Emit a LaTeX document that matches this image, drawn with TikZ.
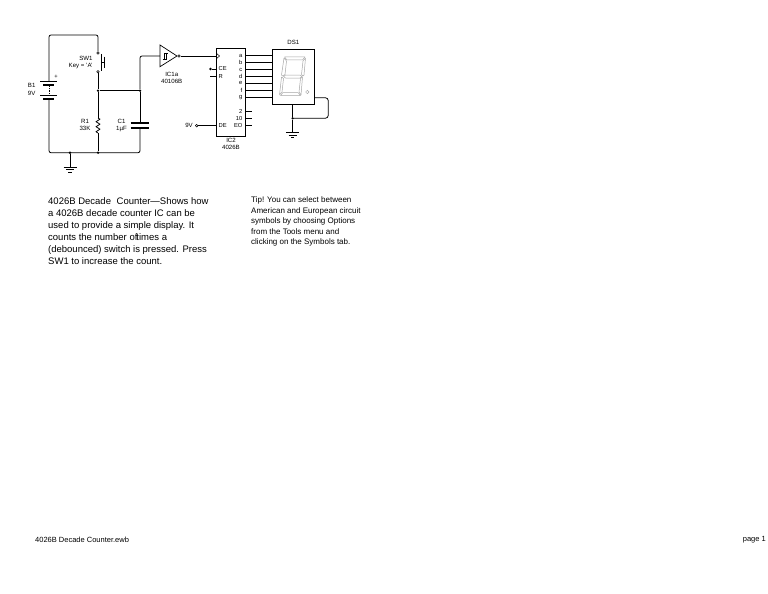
\documentclass[tikz,border=0pt]{standalone}
\usepackage{fontspec}
\setmainfont{Liberation Sans}
\usepackage{tikz}
\usetikzlibrary{calc}
\usetikzlibrary{arrows, arrows.meta, positioning, shapes.geometric}

\tikzset{
	wire/.style={line width=0.8pt},
	plate/.style={line width=0.8pt},
	thickplate/.style={line width=1.6pt},
	dot/.style={circle,fill=black,inner sep=0pt,minimum size=2.6pt},
	pinhole/.style={circle,draw,fill=white,line width=0.5pt,inner sep=0pt,minimum size=2.6pt},
	lbl/.style={font=\fontsize{6.1}{7.2}\selectfont,align=center,inner sep=0pt},
	pinlbl/.style={font=\fontsize{5.8}{6}\selectfont,inner sep=0pt},
	para/.style={font=\fontsize{9.5}{12.05}\selectfont,align=left,anchor=north west,inner sep=0pt},
	tip/.style={font=\fontsize{8}{10.5}\selectfont,align=left,anchor=north west,inner sep=0pt},
	segm/.style={draw=gray!70,line width=0.5pt,line join=round}
}

\newcommand{\gndsym}[1]{
	\draw[wire] ($(#1)+(-6.5,0)$) -- ($(#1)+(6.5,0)$);
	\draw[wire] ($(#1)+(-4,2.7)$) -- ($(#1)+(4,2.7)$);
	\draw[wire] ($(#1)+(-1.7,5.4)$) -- ($(#1)+(1.7,5.4)$);
}

\begin{document}
\begin{tikzpicture}[x=1pt,y=-1pt]
	\useasboundingbox[fill=white] (0,0) rectangle (768,594);

	% Corners of the loop
	\coordinate (topleft) at (49,35);
	\coordinate (topright) at (98,35);
	\coordinate (botleft) at (49,152.7);
	\coordinate (botcap) at (140,152.7);
	\coordinate (capin) at (140,56);

	% Junctions
	\node[dot] (jsw) at (98,90.7) {};
	\node[dot] (jcap) at (140,90.7) {};
	\node[dot] (jres) at (98,152.7) {};
	\node[dot] (jgnd) at (70,152.7) {};

	% Battery
	\coordinate (battop) at (49,81.7);
	\coordinate (batbot) at (49,99);
	\draw[plate] (40,81.7) -- (57,81.7);
	\draw[thickplate] (43,85) -- (54,85);
	\draw[wire,densely dotted] (49,86) -- (49,95);
	\draw[plate] (40,95.7) -- (57,95.7);
	\draw[thickplate] (43,99) -- (54,99);
	\node[pinlbl] (batplus) at (56,77.3) {+};
	\node[lbl] (batlabel) at (31.7,89.5) {B1\\9V};

	% Switch
	\node[pinhole] (swtop) at (98,53) {};
	\node[pinhole] (swbot) at (98,71.7) {};
	\draw[wire] (101.3,54) -- (101.3,71);
	\draw[wire] (101.3,62.3) -- (104.5,62.3);
	\draw[wire] (104.5,56.7) -- (104.5,68);
	\node[lbl,align=right,anchor=east] (swlabel) at (92.7,62.5) {SW1\\Key = 'A'};

	% Resistor
	\coordinate (restop) at (98,118);
	\coordinate (resbot) at (98,133);
	\draw[wire,line join=round] (restop) -- ++(2,1.2) -- ++(-4,2.5) -- ++(4,2.5) -- ++(-4,2.5) -- ++(4,2.5) -- ++(-4,2.5) -- (resbot);
	\node[lbl] (reslabel) at (85,125) {R1\\33K};

	% Capacitor
	\coordinate (captop) at (140,122.7);
	\coordinate (capbot) at (140,128);
	\draw[thickplate] (130.7,122.7) -- (148.7,122.7);
	\draw[thickplate] (130.7,128) -- (148.7,128);
	\node[lbl] (caplabel) at (121.5,125.3) {C1\\1µF};

	% Wires on the left
	\draw[wire,rounded corners=2pt] (battop) -- (topleft) -- (topright) -- (swtop);
	\draw[wire,rounded corners=2pt] (batbot) -- (botleft) -- (botcap) -- (capbot);
	\draw[wire] (swbot) -- (jsw) -- (restop);
	\draw[wire] (resbot) -- (jres);
	\draw[wire] (jsw) -- (jcap);
	\draw[wire] (jcap) -- (captop);

	% Ground under the circuit
	\coordinate (gndleft) at (70,167);
	\draw[wire] (jgnd) -- (gndleft);
	\gndsym{gndleft}

	% Schmitt inverter
	\coordinate (invin) at (160,56);
	\coordinate (invup) at (160,45);
	\coordinate (invdown) at (160,66.7);
	\coordinate (invtip) at (177,56);
	\draw[line width=0.7pt,line join=miter] (invup) -- (invtip) -- (invdown) -- cycle;
	\draw[line width=0.4pt] (162.7,59.5) -- (166,59.5) -- (166,52.8) -- (168.3,52.8);
	\draw[line width=0.4pt] (164,59.5) -- (164,52.8) -- (166,52.8);
	\node[pinhole] (invout) at (179,56) {};
	\node[lbl] (invlabel) at (171.7,78) {IC1a\\40106B};
	\draw[wire,rounded corners=2pt] (jcap) -- (capin) -- (invin);

	% Counter
	\node[draw,line width=0.7pt,minimum width=28.3pt,minimum height=87.7pt,inner sep=0pt] (counter) at (230.85,92.15) {};
	\coordinate (clkin) at (216.7,56);
	\draw[wire] (invout) -- (clkin);
	\draw[line width=0.5pt] (216.7,53.5) -- (219.5,56) -- (216.7,58.5);
	\node[lbl] (counterlabel) at (231,143.7) {IC2\\4026B};

	% Pin names of the counter
	\foreach \name/\ypos in {a/55.7,b/62.7,c/69.7,d/76.3,e/83.3,f/90.3,g/97.7,2/111.7,10/118.3}
		\node[pinlbl,anchor=east] (name\name) at (242.5,\ypos) {\name};
	\node[pinlbl,anchor=east] (nameEO) at (242.7,125.7) {EO};
	\node[pinlbl,anchor=west] (nameCE) at (218.5,69) {CE};
	\node[pinlbl,anchor=west] (nameR) at (218.5,76.7) {R};
	\node[pinlbl,anchor=west] (nameDE) at (218.5,125.7) {DE};

	% Outputs to the display
	\node[draw,line width=0.7pt,minimum width=41.6pt,minimum height=55.3pt,inner sep=0pt] (display) at (293.5,76.65) {};
	\node[lbl] (displaylabel) at (293.3,42.3) {DS1};
	\foreach \name/\ypos in {a/55.7,b/62.7,c/69.7,d/76.3,e/83.3,f/90.3,g/97.7}{
		\coordinate (out\name) at (245,\ypos);
		\coordinate (in\name) at (272.7,\ypos);
		\draw[wire] (out\name) -- (in\name);
	}

	% Free pins of the counter
	\foreach \name/\ypos in {two/111.7,ten/118.3,eo/125.7}{
		\coordinate (pin\name) at (245,\ypos);
		\coordinate (end\name) at (251.7,\ypos);
		\draw[wire] (pin\name) -- (end\name);
	}
	\coordinate (cepin) at (216.7,69);
	\node[dot] (ceend) at (210.5,69) {};
	\draw[wire] (ceend) -- (cepin);
	\coordinate (rpin) at (216.7,76.7);
	\coordinate (rend) at (210,76.7);
	\draw[wire] (rend) -- (rpin);

	% Supply on DE
	\coordinate (depin) at (216.7,125.7);
	\node[pinhole] (vcc) at (196.7,125.7) {};
	\draw[wire] (vcc) -- (depin);
	\node[lbl,anchor=east] (vcclabel) at (193,125.2) {9V};

	% Segments
	\draw[segm] (284.5,57) -- (305,57) -- (302.5,60) -- (287,60) -- cycle;
	\draw[segm] (284,58) -- (286.5,61) -- (285,74.5) -- (282.5,76) -- (281.5,75) -- cycle;
	\draw[segm] (305.5,58) -- (303,61) -- (301.5,74.5) -- (303,76) -- (304,75) -- cycle;
	\draw[segm] (283.5,76.5) -- (285.5,75) -- (300,75) -- (302,76.5) -- (300,78) -- (285.5,78) -- cycle;
	\draw[segm] (281.5,77) -- (283.5,78.5) -- (282,92) -- (279.5,95) -- cycle;
	\draw[segm] (302.5,77) -- (300.5,78.5) -- (299,92) -- (301,95) -- cycle;
	\draw[segm] (280.5,95.5) -- (283,92.5) -- (298,92.5) -- (300.5,95.5) -- cycle;
	\node[circle,draw=gray!70,line width=0.5pt,inner sep=0pt,minimum size=3.4pt] (decpoint) at (307.3,92) {};

	% Common of the display
	\node[dot] (jcom) at (292.7,118.3) {};
	\coordinate (comtop) at (292.7,104.3);
	\coordinate (gndright) at (292.7,132.3);
	\coordinate (loopout) at (314.3,97.7);
	\coordinate (loopa) at (328.3,97.7);
	\coordinate (loopb) at (328.3,118.3);
	\draw[wire] (comtop) -- (jcom) -- (gndright);
	\draw[wire,rounded corners=3pt] (loopout) -- (loopa) -- (loopb) -- (jcom);
	\gndsym{gndright}

	% Description
	\node[para] (description) at (48,197.2) {4026B Decade\kern3pt{} Counter—Shows how\\a 4026B decade counter IC can be\\used to provide a simple display. It\\counts the number of\kern-1pt times a\\(debounced) switch is pressed. Press\\SW1 to increase the count.};

	% Tip
	\node[tip] (tiptext) at (251,196.6) {Tip! You can select between\\American and European circuit\\symbols by choosing Options\\from the Tools menu and\\clicking on the Symbols tab.};

	% Footer
	\node[font=\fontsize{7.5}{9}\selectfont,anchor=west,inner sep=0pt] (footer) at (35,539.5) {4026B Decade Counter.ewb};
	\node[font=\fontsize{7.5}{9}\selectfont,anchor=east,inner sep=0pt] (pagenum) at (766,539.5) {page 1};
\end{tikzpicture}
\end{document}
